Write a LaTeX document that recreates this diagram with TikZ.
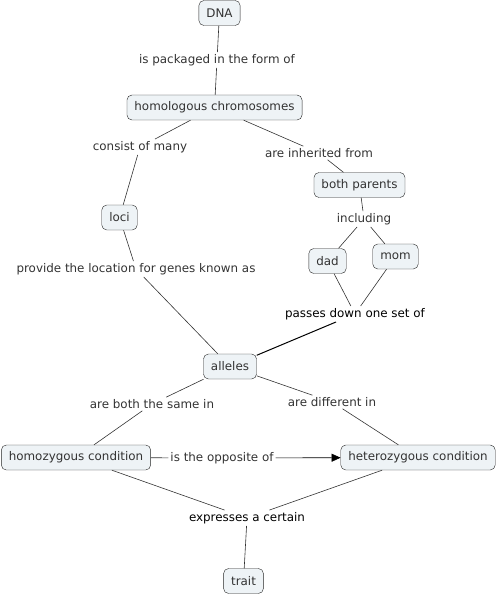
\documentclass[tikz,border=0pt]{standalone}
\usepackage{fontspec}
\setmainfont{DejaVu Sans}
\usetikzlibrary{arrows.meta}

\definecolor{boxfill}{HTML}{EEF3F6}
\definecolor{inkgray}{HTML}{333333}

\begin{document}
\begin{tikzpicture}[x=1pt,y=-1pt,
  concept/.style={draw=black!85, fill=boxfill, rounded corners=5pt,
    minimum height=25pt, inner xsep=7.5pt, text=inkgray,
    font=\fontsize{11.9}{13}\selectfont},
  phrase/.style={inner sep=2pt, text=inkgray,
    font=\fontsize{11.9}{13}\selectfont},
  link/.style={draw=inkgray, line width=0.6pt}]

\useasboundingbox (0,0) rectangle (498,596);

% Concepts
\node[concept] (dna) at (219.5,13) {DNA};
\node[concept] (homol) at (214.5,107.5) {homologous chromosomes};
\node[concept] (parents) at (359.5,185) {both parents};
\node[concept] (loci) at (119.5,217.5) {loci};
\node[concept] (dad) at (327.5,261) {dad};
\node[concept] (mom) at (395.5,256.5) {mom};
\node[concept] (alleles) at (230,366.5) {alleles};
\node[concept] (homoz) at (76,457.5) {homozygous condition};
\node[concept] (heteroz) at (418,457.5) {heterozygous condition};
\node[concept] (trait) at (243.5,581) {trait};

% Linking phrases
\node[phrase] (packaged) at (217,60) {is packaged in the form of};
\node[phrase] (consist) at (140,147) {consist of many};
\node[phrase] (inherited) at (319,153) {are inherited from};
\node[phrase] (including) at (364,219) {including};
\node[phrase] (provide) at (136,269) {provide the location for genes known as};
\node[phrase, text=black] (passes) at (355,314) {passes down one set of};
\node[phrase] (same) at (152,404) {are both the same in};
\node[phrase] (different) at (332,402) {are different in};
\node[phrase] (opposite) at (222,458) {is the opposite of};
\node[phrase, text=black] (expresses) at (247,518) {expresses a certain};

% Connectors
\draw[link] (dna) -- (packaged);
\draw[link] (packaged) -- (homol);
\draw[link] (homol) -- (consist);
\draw[link] (consist) -- (loci);
\draw[link] (homol) -- (inherited);
\draw[link] (inherited) -- (parents);
\draw[link] (parents) -- (including);
\draw[link] (including) -- (dad);
\draw[link] (including) -- (mom);
\draw[link] (loci) -- (provide);
\draw[link] (provide) -- (alleles);
\draw[link] (dad) -- (passes);
\draw[link] (mom) -- (passes);
\draw[link, draw=black, line width=1pt] (passes) -- (alleles);
\draw[link] (alleles) -- (same);
\draw[link] (same) -- (homoz);
\draw[link] (alleles) -- (different);
\draw[link] (different) -- (heteroz);
\draw[link] (homoz) -- (opposite);
\draw[link, draw=black, -{Triangle[length=9pt,width=8pt]}] (opposite) -- (heteroz);
\draw[link] (homoz) -- (expresses);
\draw[link] (heteroz) -- (expresses);
\draw[link] (expresses) -- (trait);

\end{tikzpicture}
\end{document}
